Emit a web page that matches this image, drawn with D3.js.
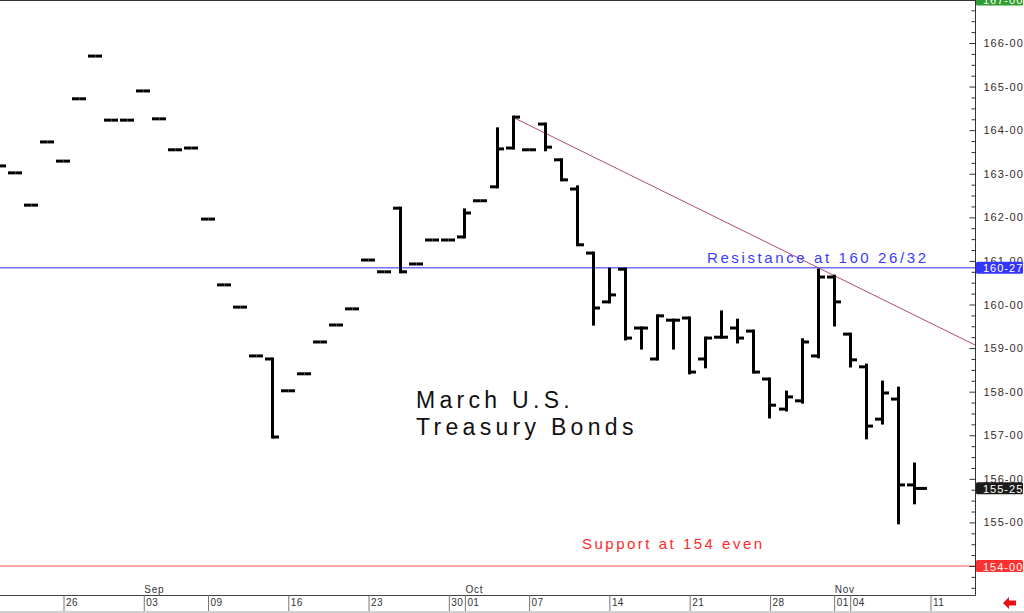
<!DOCTYPE html>
<html>
<head>
<meta charset="utf-8">
<script src="https://cdn.jsdelivr.net/npm/d3@7"></script>
<style>
  html, body { margin: 0; padding: 0; background: #fff; overflow: hidden; }
  svg { display: block; font-family: "Liberation Sans", Arial, sans-serif; }
</style>
</head>
<body>
<svg></svg>
<script>
// trading days shown on the chart (2002), the last two have no bar yet
const days = [
  "08-20", "08-21", "08-22", "08-23",
  "08-26", "08-27", "08-28", "08-29", "08-30",
  "09-03", "09-04", "09-05", "09-06",
  "09-09", "09-10", "09-11", "09-12", "09-13",
  "09-16", "09-17", "09-18", "09-19", "09-20",
  "09-23", "09-24", "09-25", "09-26", "09-27",
  "09-30", "10-01", "10-02", "10-03", "10-04",
  "10-07", "10-08", "10-09", "10-10", "10-11",
  "10-14", "10-15", "10-16", "10-17", "10-18",
  "10-21", "10-22", "10-23", "10-24", "10-25",
  "10-28", "10-29", "10-30", "10-31", "11-01",
  "11-04", "11-05", "11-06", "11-07", "11-08",
  "11-11", "11-12"
]

// OHLC, one value per bar (points, decimal)
const opens = [
  163.18, 163.02, 162.28, 163.73,
  163.29, 164.72, 165.70, 164.23, 164.23,
  164.90, 164.26, 163.55, 163.59,
  161.96, 160.45, 159.94, 158.82, 158.75,
  158.02, 158.41, 159.14, 159.53, 159.90,
  161.02, 160.75, 162.21, 160.93, 161.48,
  161.48, 161.55, 162.38, 162.70, 163.59,
  163.55, 164.14, 163.32, 162.65, 161.18,
  160.06, 160.81, 159.46, 158.75, 159.64,
  159.69, 158.75, 159.25, 159.46, 159.39,
  158.29, 157.60, 157.79, 158.82, 160.63,
  159.32, 158.57, 157.37, 157.83, 155.86
]
const highs = [
  163.18, 163.02, 162.28, 163.73,
  163.29, 164.72, 165.70, 164.23, 164.23,
  164.90, 164.26, 163.55, 163.59,
  161.96, 160.45, 159.94, 158.82, 158.75,
  158.02, 158.41, 159.14, 159.53, 159.90,
  161.02, 160.75, 162.21, 160.93, 161.48,
  161.48, 162.17, 162.38, 164.03, 164.30,
  163.55, 164.14, 163.32, 162.70, 161.18,
  160.81, 160.81, 159.46, 159.74, 159.64,
  159.69, 159.23, 159.83, 159.64, 159.39,
  158.29, 157.99, 159.19, 160.79, 160.65,
  159.32, 158.61, 158.22, 158.08, 156.34
]
const lows = [
  163.18, 163.02, 162.28, 163.73,
  163.29, 164.72, 165.70, 164.23, 164.23,
  164.90, 164.26, 163.55, 163.59,
  161.96, 160.45, 159.94, 158.82, 156.96,
  158.02, 158.41, 159.14, 159.53, 159.90,
  161.02, 160.75, 160.75, 160.93, 161.48,
  161.48, 161.55, 162.38, 162.70, 163.59,
  163.55, 163.55, 162.86, 161.37, 159.55,
  160.06, 159.21, 159.00, 158.75, 159.00,
  158.43, 158.57, 159.25, 159.14, 158.45,
  157.42, 157.58, 157.76, 158.80, 159.53,
  158.59, 156.94, 157.28, 154.99, 155.45
]
const closes = [
  163.18, 163.02, 162.28, 163.73,
  163.29, 164.72, 165.70, 164.23, 164.23,
  164.90, 164.26, 163.55, 163.59,
  161.96, 160.45, 159.94, 158.82, 156.96,
  158.02, 158.41, 159.14, 159.53, 159.90,
  161.02, 160.75, 160.75, 160.93, 161.48,
  161.48, 162.10, 162.38, 163.57, 164.30,
  163.55, 163.61, 162.86, 161.37, 159.92,
  160.22, 159.23, 159.46, 159.74, 159.64,
  158.45, 159.23, 159.25, 159.23, 158.45,
  157.69, 157.88, 159.14, 160.63, 160.06,
  158.73, 157.21, 157.97, 155.86, 155.78
]

// x axis labels
const dayTicks = [
  ["08-26", "26"], ["09-03", "03"], ["09-09", "09"], ["09-16", "16"],
  ["09-23", "23"], ["09-30", "30"], ["10-01", "01"], ["10-07", "07"],
  ["10-14", "14"], ["10-21", "21"], ["10-28", "28"], ["11-01", "01"],
  ["11-04", "04"], ["11-11", "11"]
]
const monthTicks = [["09-03", "Sep"], ["10-01", "Oct"], ["11-01", "Nov"]]

// price levels
const priceTicks = d3.range(154, 168)
const resistance = 160 + 27 / 32
const support = 154
const lastPrice = 155 + 25 / 32
// trend line through the Oct 4 high
const trendFrom = ["10-04", 164.30]
const trendTo = ["11-11", 159.58]

const W = 1024, H = 613
const plotRight = 975.5, plotBottom = 595.5

const svg = d3.select("svg")
  .attr("width", W)
  .attr("height", H)

const dayIndex = d => days.indexOf(d)

const x = d3.scaleLinear()
  .domain([dayIndex("08-26"), dayIndex("11-11")])
  .range([63, 930])

const y = d3.scaleLinear()
  .domain([154, 166])
  .range([566, 43])

// price format like 160-27 (32nds)
const fmt32 = v => {
  let whole = Math.floor(v + 1e-9)
  let n = Math.round((v - whole) * 32)
  if (n === 32) { whole += 1; n = 0 }
  return whole + "-" + String(n).padStart(2, "0")
}

svg.append("rect").attr("width", W).attr("height", H).attr("fill", "#fff")

// horizontal lines
svg.append("line")
  .attr("x1", 0).attr("x2", plotRight)
  .attr("y1", y(resistance)).attr("y2", y(resistance))
  .attr("stroke", "#7070ff").attr("stroke-width", 1.5)

svg.append("line")
  .attr("x1", 0).attr("x2", plotRight)
  .attr("y1", y(support)).attr("y2", y(support))
  .attr("stroke", "#ff8c8c").attr("stroke-width", 1.5)

// trend line, extended to the right edge
const tx1 = x(dayIndex(trendFrom[0])), ty1 = y(trendFrom[1])
const tx2 = x(dayIndex(trendTo[0])), ty2 = y(trendTo[1])
const slope = (ty2 - ty1) / (tx2 - tx1)
svg.append("line")
  .attr("x1", tx1).attr("y1", ty1)
  .attr("x2", plotRight).attr("y2", ty1 + slope * (plotRight - tx1))
  .attr("stroke", "#b04a78").attr("stroke-width", 1)

// OHLC bars
const bars = opens.map((o, i) => ({
  i: i, o: o, h: highs[i], l: lows[i], c: closes[i], last: i === opens.length - 1
}))

const barG = svg.append("g")
  .attr("stroke", "#000")
  .attr("stroke-width", 3)

const bar = barG.selectAll("g")
  .data(bars)
  .enter()
  .append("g")

bar.filter(d => d.h !== d.l)
  .append("line")
  .attr("x1", d => Math.round(x(d.i)) + 0.5)
  .attr("x2", d => Math.round(x(d.i)) + 0.5)
  .attr("y1", d => y(d.h) - 1.5)
  .attr("y2", d => y(d.l) + 1.5)

bar.append("line")
  .attr("x1", d => Math.round(x(d.i)) - 7)
  .attr("x2", d => Math.round(x(d.i)) + 0.5)
  .attr("y1", d => y(d.o))
  .attr("y2", d => y(d.o))

bar.append("line")
  .attr("x1", d => Math.round(x(d.i)) + 0.5)
  .attr("x2", d => Math.round(x(d.i)) + (d.last ? 13 : 7))
  .attr("y1", d => y(d.c))
  .attr("y2", d => y(d.c))

// annotations
svg.append("text")
  .attr("x", 707).attr("y", 263)
  .attr("font-size", 15)
  .attr("letter-spacing", 2.6)
  .attr("fill", "#3a3aff")
  .text("Resistance at 160 26/32")

svg.append("text")
  .attr("x", 582).attr("y", 549)
  .attr("font-size", 15)
  .attr("letter-spacing", 2.5)
  .attr("fill", "#ff2a2a")
  .text("Support at 154 even")

const title = svg.append("text")
  .attr("font-size", 23)
  .attr("letter-spacing", 4.3)
  .attr("fill", "#111")
title.append("tspan").attr("x", 416).attr("y", 408).text("March U.S.")
title.append("tspan").attr("x", 416).attr("y", 435).text("Treasury Bonds")

// frame
svg.append("line")
  .attr("x1", 0).attr("x2", plotRight).attr("y1", 0.5).attr("y2", 0.5)
  .attr("stroke", "#333")
svg.append("line")
  .attr("x1", 0).attr("x2", plotRight).attr("y1", plotBottom).attr("y2", plotBottom)
  .attr("stroke", "#444")
svg.append("line")
  .attr("x1", plotRight).attr("x2", plotRight).attr("y1", 0).attr("y2", plotBottom)
  .attr("stroke", "#333")

// right price axis
const minorTicks = d3.range(153.5, 167.76, 0.25).filter(v => v % 1 !== 0)

svg.append("g")
  .attr("transform", `translate(${plotRight},0)`)
  .call(d3.axisRight(y).tickValues(minorTicks).tickSizeInner(-4).tickSizeOuter(0).tickFormat(""))
  .call(g => g.select(".domain").remove())
  .selectAll("line").attr("stroke", "#333")

const yAxis = svg.append("g")
  .attr("transform", `translate(${plotRight},0)`)
  .call(d3.axisRight(y).tickValues(priceTicks.concat([167])).tickSizeInner(-6).tickSizeOuter(0).tickPadding(8).tickFormat(fmt32))
  .call(g => g.select(".domain").remove())

yAxis.selectAll("line").attr("stroke", "#333")
yAxis.selectAll("text")
  .attr("font-size", 11)
  .attr("letter-spacing", 1)
  .attr("fill", "#3a2a2a")
  .attr("font-family", "Liberation Sans, Arial, sans-serif")

// highlighted price boxes on the axis
const flags = [
  { v: 167, bg: "#2e9e2e" },
  { v: resistance, bg: "#3434ff" },
  { v: lastPrice, bg: "#1c1c1c" },
  { v: support, bg: "#ff3030" }
]
const flag = svg.append("g").selectAll("g")
  .data(flags)
  .enter()
  .append("g")
  .attr("transform", d => `translate(976,${y(d.v)})`)

flag.append("rect")
  .attr("x", 0).attr("y", -6)
  .attr("width", 47).attr("height", 12)
  .attr("rx", 1.5)
  .attr("fill", d => d.bg)

flag.append("text")
  .attr("x", 7).attr("y", 4.5)
  .attr("font-size", 11)
  .attr("letter-spacing", 1)
  .attr("fill", "#fff")
  .text(d => fmt32(d.v))

// bottom date axis
const xAxis = svg.append("g")
  .attr("transform", `translate(0,${plotBottom})`)
  .call(d3.axisBottom(x)
    .tickValues(dayTicks.map(t => dayIndex(t[0])))
    .tickSizeInner(16).tickSizeOuter(0)
    .tickFormat((d, i) => dayTicks[i][1]))
  .call(g => g.select(".domain").remove())

xAxis.selectAll(".tick line")
  .attr("stroke", "#777")
  .attr("transform", "translate(0.5,0)")
xAxis.selectAll(".tick text")
  .attr("text-anchor", "start")
  .attr("x", 2.5)
  .attr("y", 3)
  .attr("font-size", 10)
  .attr("letter-spacing", 0.4)
  .attr("fill", "#333")
  .attr("font-family", "Liberation Sans, Arial, sans-serif")

svg.append("g").selectAll("text")
  .data(monthTicks)
  .enter()
  .append("text")
  .attr("x", d => x(dayIndex(d[0])) + 1)
  .attr("y", 593)
  .attr("font-size", 10)
  .attr("letter-spacing", 0.8)
  .attr("fill", "#333")
  .text(d => d[1])

// bottom strip and scroll arrow
svg.append("rect")
  .attr("x", 0).attr("y", 611).attr("width", W).attr("height", 2)
  .attr("fill", "#cfcfcf")

svg.append("path")
  .attr("d", "M1003,603 L1009,597 L1009,600.5 L1016,600.5 L1016,605.5 L1009,605.5 L1009,609 Z")
  .attr("fill", "#e81010")
</script>
</body>
</html>
